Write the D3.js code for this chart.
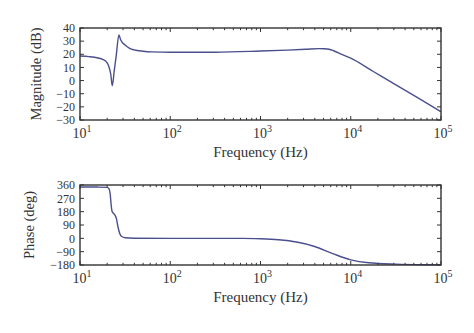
<!DOCTYPE html>
<html>
<head>
<meta charset="utf-8">
<script src="https://cdn.jsdelivr.net/npm/d3@7"></script>
<style>
  html, body { margin: 0; padding: 0; background: #fff; }
  svg { display: block; }
  text { font-family: "Liberation Serif", "DejaVu Serif", serif; fill: #333; }
</style>
</head>
<body>
<svg id="chart" width="474" height="333"></svg>
<script>
// Bode plot: magnitude and phase against frequency (Hz)

// Frequency samples (Hz) for the magnitude response
const magFreq = [10, 12.6, 15.8, 17.8, 20.0, 20.9, 21.9, 22.8, 24.0, 25.1, 27.0, 28.2,
  31.6, 35.5, 39.8, 50.1, 63.1, 100, 316, 1000, 1995, 3162, 4467, 5012, 5754, 6457,
  7943, 10000, 17783, 31623, 56234, 100000];
// Magnitude (dB)
const magDb = [18.7, 18.2, 17.2, 16.2, 13.5, 10.5, 5, -3.9, 8, 18, 34.7, 31,
  27, 24.5, 23.3, 22.3, 21.8, 21.5, 21.6, 22.5, 23.2, 23.8, 24.3, 24.2, 23.8, 22.7,
  20.0, 17.0, 6.9, -3.2, -13.4, -23.7];

// Frequency samples (Hz) for the phase response
const phaseFreq = [10, 15.8, 20.0, 20.9, 21.6, 22.1, 22.6, 23.4, 24.5, 25.4, 26.3,
  27.5, 28.8, 31.6, 39.8, 100, 316, 631, 1000, 1585, 2512, 3981, 6310, 10000, 15849,
  31623, 63096, 100000];
// Phase (deg)
const phaseDeg = [347, 346, 344, 336, 300, 230, 185, 170, 155, 130, 80,
  35, 14, 4, 1, 0, 0, 0, -3, -10, -25, -55, -103, -145, -165,
  -174, -178, -179];

// Axis ticks
const freqTicks = [10, 100, 1000, 10000, 100000];
const magTicks = [40, 30, 20, 10, 0, -10, -20, -30];
const phaseTicks = [360, 270, 180, 90, 0, -90, -180];

const svg = d3.select("#chart");
const lineColor = "#4b4f8e";
const frameColor = "#333";

const x = d3.scaleLog().domain([10, 100000]).range([80, 441]);

// minor ticks 2..9 within each decade
const minorTicks = [];
for (let d = 10; d < 100000; d *= 10) {
  for (let k = 2; k <= 9; k++) minorTicks.push(d * k);
}

function fmt(v) { return v < 0 ? "\u2212" + Math.abs(v) : String(v); }

function panel(cfg) {
  const y = d3.scaleLinear().domain(cfg.domain).range([cfg.bottom, cfg.top]);
  const g = svg.append("g");

  // data curve
  const pts = cfg.freq.map((f, i) => [f, cfg.vals[i]]);
  g.append("path")
    .datum(pts)
    .attr("fill", "none")
    .attr("stroke", lineColor)
    .attr("stroke-width", 1.4)
    .attr("d", d3.line().x(d => x(d[0])).y(d => y(d[1])).curve(d3.curveMonotoneX));

  // inward ticks on all four sides
  const L = x.range()[0], R = x.range()[1];
  const ticks = g.append("g").attr("stroke", frameColor).attr("stroke-width", 1);
  const xt = freqTicks.map(f => ({ f, len: 4 })).concat(minorTicks.map(f => ({ f, len: 2.2 })));
  xt.forEach(t => {
    ticks.append("line").attr("x1", x(t.f)).attr("x2", x(t.f))
      .attr("y1", cfg.bottom).attr("y2", cfg.bottom - t.len);
    ticks.append("line").attr("x1", x(t.f)).attr("x2", x(t.f))
      .attr("y1", cfg.top).attr("y2", cfg.top + t.len);
  });
  cfg.yTicks.forEach(v => {
    ticks.append("line").attr("x1", L).attr("x2", L + 4).attr("y1", y(v)).attr("y2", y(v));
    ticks.append("line").attr("x1", R).attr("x2", R - 4).attr("y1", y(v)).attr("y2", y(v));
  });

  // frame
  g.append("rect")
    .attr("x", L).attr("y", cfg.top)
    .attr("width", R - L).attr("height", cfg.bottom - cfg.top)
    .attr("fill", "none").attr("stroke", frameColor).attr("stroke-width", 1.4);

  // y tick labels
  g.selectAll("text.ylab").data(cfg.yTicks).join("text")
    .attr("class", "ylab")
    .attr("x", L - 5).attr("y", v => y(v))
    .attr("dy", "0.35em")
    .attr("text-anchor", "end")
    .attr("font-size", 12)
    .text(fmt);

  // x tick labels 10^n
  freqTicks.forEach(f => {
    const t = g.append("text")
      .attr("x", x(f) + 2).attr("y", cfg.bottom + 18)
      .attr("text-anchor", "middle")
      .attr("font-size", 14);
    t.append("tspan").text("10");
    t.append("tspan").attr("dy", -6).attr("font-size", 10).text(String(Math.round(Math.log10(f))));
  });

  // axis titles
  g.append("text")
    .attr("x", (L + R) / 2).attr("y", cfg.bottom + 37)
    .attr("text-anchor", "middle").attr("font-size", 15)
    .text("Frequency (Hz)");
  g.append("text")
    .attr("transform", `translate(${cfg.titleX},${(cfg.top + cfg.bottom) / 2}) rotate(-90)`)
    .attr("text-anchor", "middle").attr("font-size", 14.5)
    .text(cfg.title);
}

panel({ top: 28, bottom: 120, domain: [-30, 40], yTicks: magTicks,
  freq: magFreq, vals: magDb, title: "Magnitude (dB)", titleX: 41 });
panel({ top: 185, bottom: 265, domain: [-180, 360], yTicks: phaseTicks,
  freq: phaseFreq, vals: phaseDeg, title: "Phase (deg)", titleX: 34 });
</script>
</body>
</html>
